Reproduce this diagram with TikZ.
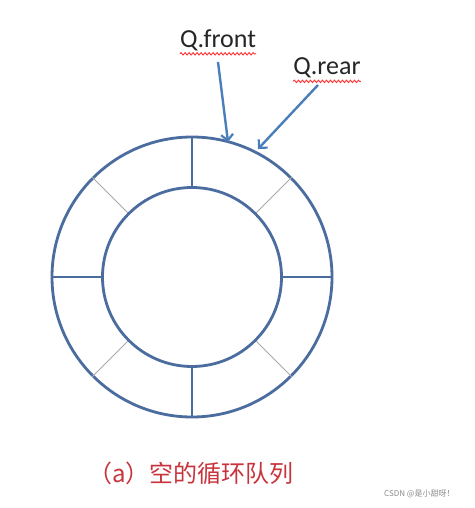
\documentclass[tikz,border=0pt]{standalone}
\usepackage{fontspec}
\setmainfont{Carlito}
\newfontfamily\cjkfont{Noto Sans CJK SC}
\usetikzlibrary{arrows.meta,decorations.pathmorphing}
\definecolor{ringblue}{HTML}{4A6C9E}
\definecolor{arrowblue}{HTML}{4A7EBB}
\definecolor{spokegray}{HTML}{A8A8B0}
\definecolor{capred}{HTML}{C8343C}
\tikzset{
  ring/.style={draw=ringblue, line width=2.8pt, circle, inner sep=0pt},
  mainspoke/.style={draw=ringblue, line width=1.4pt},
  diagspoke/.style={draw=spokegray, line width=1pt},
  pointer/.style={draw=arrowblue, line width=2.4pt, -{Straight Barb[length=6pt,width=12pt,line width=2.2pt]}},
  label/.style={font=\fontsize{26}{28}\selectfont, text=black!85, inner sep=0pt},
  squiggle/.style={draw=red!80, line width=0.9pt, decorate, decoration={snake, amplitude=1.2pt, segment length=4pt}},
}
\begin{document}
\begin{tikzpicture}[x=1pt,y=-1pt]
\useasboundingbox[fill=white] (0,0) rectangle (474,508);
\node[ring, minimum size=280pt] (outer) at (192,277) {};
\node[ring, minimum size=179pt] (inner) at (192,277) {};
% spokes
\foreach \a in {0,90,180,270} {
  \path[mainspoke] (inner.\a) -- (outer.\a);
}
\foreach \a in {45,135,225,315} {
  \path[diagspoke] (inner.\a) -- (outer.\a);
}
% labels
\node[label] (front) at (218,40) {Q.front};
\node[label] (rear) at (327,68) {Q.rear};
\path[squiggle] ([yshift=-3pt]front.south west) -- ([yshift=-3pt]front.south east);
\path[squiggle] ([yshift=-3pt]rear.south west) -- ([yshift=-3pt]rear.south east);
\coordinate (fs) at (218,62);
\coordinate (fe) at (228,142);
\coordinate (rs) at (318,85);
\coordinate (re) at (258,149);
\path[pointer] (fs) -- (fe);
\path[pointer] (rs) -- (re);
% caption
\node[font=\cjkfont\fontsize{24}{26}\selectfont, text=capred, anchor=west, inner sep=0pt] (cap) at (88,473) {（a）空的循环队列};
\node[font=\cjkfont\fontsize{8}{9}\selectfont, text=black!45, anchor=west, inner sep=0pt] (wm) at (384,494) {CSDN @是小甜呀！};
\end{tikzpicture}
\end{document}
